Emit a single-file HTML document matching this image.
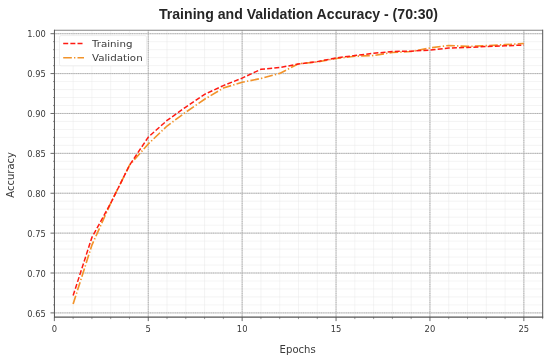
<!DOCTYPE html>
<html><head><meta charset="utf-8"><title>Training and Validation Accuracy</title>
<style>html,body{margin:0;padding:0;background:#fff}svg{display:block}</style></head>
<body>
<svg width="550" height="361" viewBox="0 0 550 361">
<rect width="550" height="361" fill="#fff"/>
<path d="M73.13 30.2V317.1M91.91 30.2V317.1M110.69 30.2V317.1M129.47 30.2V317.1M167.03 30.2V317.1M185.81 30.2V317.1M204.59 30.2V317.1M223.37 30.2V317.1M260.93 30.2V317.1M279.71 30.2V317.1M298.49 30.2V317.1M317.27 30.2V317.1M354.83 30.2V317.1M373.61 30.2V317.1M392.39 30.2V317.1M411.17 30.2V317.1M448.73 30.2V317.1M467.51 30.2V317.1M486.29 30.2V317.1M505.07 30.2V317.1M542.63 30.2V317.1M54.5 304.92H542.7M54.5 296.95H542.7M54.5 288.97H542.7M54.5 280.99H542.7M54.5 265.04H542.7M54.5 257.06H542.7M54.5 249.08H542.7M54.5 241.11H542.7M54.5 225.15H542.7M54.5 217.17H542.7M54.5 209.20H542.7M54.5 201.22H542.7M54.5 185.27H542.7M54.5 177.29H542.7M54.5 169.31H542.7M54.5 161.33H542.7M54.5 145.38H542.7M54.5 137.40H542.7M54.5 129.43H542.7M54.5 121.45H542.7M54.5 105.49H542.7M54.5 97.52H542.7M54.5 89.54H542.7M54.5 81.56H542.7M54.5 65.61H542.7M54.5 57.63H542.7M54.5 49.65H542.7M54.5 41.68H542.7" stroke="#e6e6e6" stroke-width="0.45" fill="none"/>
<path d="M54.35 30.2V317.1M148.25 30.2V317.1M242.15 30.2V317.1M336.05 30.2V317.1M429.95 30.2V317.1M523.85 30.2V317.1M54.5 312.90H542.7M54.5 273.01H542.7M54.5 233.13H542.7M54.5 193.24H542.7M54.5 153.36H542.7M54.5 113.47H542.7M54.5 73.59H542.7M54.5 33.70H542.7" stroke="#d4d4d4" stroke-width="0.85" fill="none"/>
<path d="M54.35 30.2V317.1M148.25 30.2V317.1M242.15 30.2V317.1M336.05 30.2V317.1M429.95 30.2V317.1M523.85 30.2V317.1M54.5 312.90H542.7M54.5 273.01H542.7M54.5 233.13H542.7M54.5 193.24H542.7M54.5 153.36H542.7M54.5 113.47H542.7M54.5 73.59H542.7M54.5 33.70H542.7" stroke="#a8a8a8" stroke-width="0.85" stroke-dasharray="1.1 0.7" fill="none"/>
<polyline points="73.13,304.00 91.91,245.12 110.69,203.19 129.47,165.31 148.25,143.99 167.03,126.01 185.81,112.16 204.59,99.27 223.37,88.05 242.15,82.24 260.93,78.50 279.71,73.41 298.49,63.78 317.27,61.95 336.05,58.53 354.83,56.22 373.61,55.51 392.39,52.48 411.17,51.53 429.95,47.95 448.73,45.48 467.51,46.44 486.29,45.64 505.07,44.68 523.85,43.49" fill="none" stroke="#f2932a" stroke-width="1.65" stroke-dasharray="8.64 2.16 1.35 2.16"/>
<polyline points="73.13,295.49 91.91,237.40 110.69,203.19 129.47,165.31 148.25,137.15 167.03,120.44 185.81,107.07 204.59,94.34 223.37,85.58 242.15,78.10 260.93,69.27 279.71,67.52 298.49,64.02 317.27,61.63 336.05,57.97 354.83,55.51 373.61,53.28 392.39,51.53 411.17,51.13 429.95,50.18 448.73,48.03 467.51,47.39 486.29,46.59 505.07,45.80 523.85,45.08" fill="none" stroke="#ff1a12" stroke-width="1.5" stroke-dasharray="5 2.16"/>
<path d="M54.35 317.1v4M148.25 317.1v4M242.15 317.1v4M336.05 317.1v4M429.95 317.1v4M523.85 317.1v4M54.5 312.90h-4M54.5 273.01h-4M54.5 233.13h-4M54.5 193.24h-4M54.5 153.36h-4M54.5 113.47h-4M54.5 73.59h-4M54.5 33.70h-4" stroke="#686868" stroke-width="1" fill="none"/>
<path d="M73.13 317.1v2M91.91 317.1v2M110.69 317.1v2M129.47 317.1v2M167.03 317.1v2M185.81 317.1v2M204.59 317.1v2M223.37 317.1v2M260.93 317.1v2M279.71 317.1v2M298.49 317.1v2M317.27 317.1v2M354.83 317.1v2M373.61 317.1v2M392.39 317.1v2M411.17 317.1v2M448.73 317.1v2M467.51 317.1v2M486.29 317.1v2M505.07 317.1v2M542.63 317.1v2M54.5 304.92h-1.5M54.5 296.95h-1.5M54.5 288.97h-1.5M54.5 280.99h-1.5M54.5 265.04h-1.5M54.5 257.06h-1.5M54.5 249.08h-1.5M54.5 241.11h-1.5M54.5 225.15h-1.5M54.5 217.17h-1.5M54.5 209.20h-1.5M54.5 201.22h-1.5M54.5 185.27h-1.5M54.5 177.29h-1.5M54.5 169.31h-1.5M54.5 161.33h-1.5M54.5 145.38h-1.5M54.5 137.40h-1.5M54.5 129.43h-1.5M54.5 121.45h-1.5M54.5 105.49h-1.5M54.5 97.52h-1.5M54.5 89.54h-1.5M54.5 81.56h-1.5M54.5 65.61h-1.5M54.5 57.63h-1.5M54.5 49.65h-1.5M54.5 41.68h-1.5" stroke="#555" stroke-width="0.6" fill="none"/>
<path d="M54.5 30.2H542.7" stroke="#858585" stroke-width="1.1" fill="none"/>
<path d="M542.7 29.7V317.6" stroke="#555" stroke-width="1" fill="none"/>
<path d="M54.5 29.7V317.6" stroke="#585858" stroke-width="0.95" fill="none"/>
<path d="M54.0 317.1H543.2" stroke="#555" stroke-width="1.15" fill="none"/>
<rect x="59.5" y="35.6" width="87" height="30.2" rx="1.5" fill="#fff" fill-opacity="0.9" stroke="#e6e6e6" stroke-opacity="0.8" stroke-width="0.8"/>
<path d="M63.2 43.5H83" stroke="#ff1a12" stroke-width="1.35" stroke-dasharray="5 2.16"/>
<path d="M63.2 57.8H84" stroke="#f2932a" stroke-width="1.6" stroke-dasharray="8.64 2.16 1.35 2.16"/>
<g font-family="DejaVu Sans, sans-serif" fill="#3a3a3a">
<text transform="translate(92 46.9) scale(1.028 0.95)" font-size="10">Training</text>
<text transform="translate(92 61.4) scale(1.028 0.95)" font-size="10">Validation</text>
<text transform="translate(54.35 331.9) scale(1 1)" font-size="8.4" text-anchor="middle">0</text>
<text transform="translate(148.25 331.9) scale(1 1)" font-size="8.4" text-anchor="middle">5</text>
<text transform="translate(242.15 331.9) scale(1 1)" font-size="8.4" text-anchor="middle">10</text>
<text transform="translate(336.05 331.9) scale(1 1)" font-size="8.4" text-anchor="middle">15</text>
<text transform="translate(429.95 331.9) scale(1 1)" font-size="8.4" text-anchor="middle">20</text>
<text transform="translate(523.85 331.9) scale(1 1)" font-size="8.4" text-anchor="middle">25</text>
<text transform="translate(45.8 316.50) scale(1.0 0.98)" font-size="8.3" text-anchor="end">0.65</text>
<text transform="translate(45.8 276.61) scale(1.0 0.98)" font-size="8.3" text-anchor="end">0.70</text>
<text transform="translate(45.8 236.73) scale(1.0 0.98)" font-size="8.3" text-anchor="end">0.75</text>
<text transform="translate(45.8 196.84) scale(1.0 0.98)" font-size="8.3" text-anchor="end">0.80</text>
<text transform="translate(45.8 156.96) scale(1.0 0.98)" font-size="8.3" text-anchor="end">0.85</text>
<text transform="translate(45.8 117.07) scale(1.0 0.98)" font-size="8.3" text-anchor="end">0.90</text>
<text transform="translate(45.8 77.19) scale(1.0 0.98)" font-size="8.3" text-anchor="end">0.95</text>
<text transform="translate(45.8 37.30) scale(1.0 0.98)" font-size="8.3" text-anchor="end">1.00</text>
<text transform="translate(297.7 352.7) scale(1.01 0.99)" font-size="10" text-anchor="middle">Epochs</text>
<text transform="translate(14.2 174.9) rotate(-90)" font-size="10" text-anchor="middle">Accuracy</text>
</g>
<text x="298.5" y="18.7" font-family="Liberation Sans, Arial, sans-serif" font-weight="700" font-size="14.1" text-anchor="middle" fill="#262626">Training and Validation Accuracy - (70:30)</text>
</svg>
</body></html>
